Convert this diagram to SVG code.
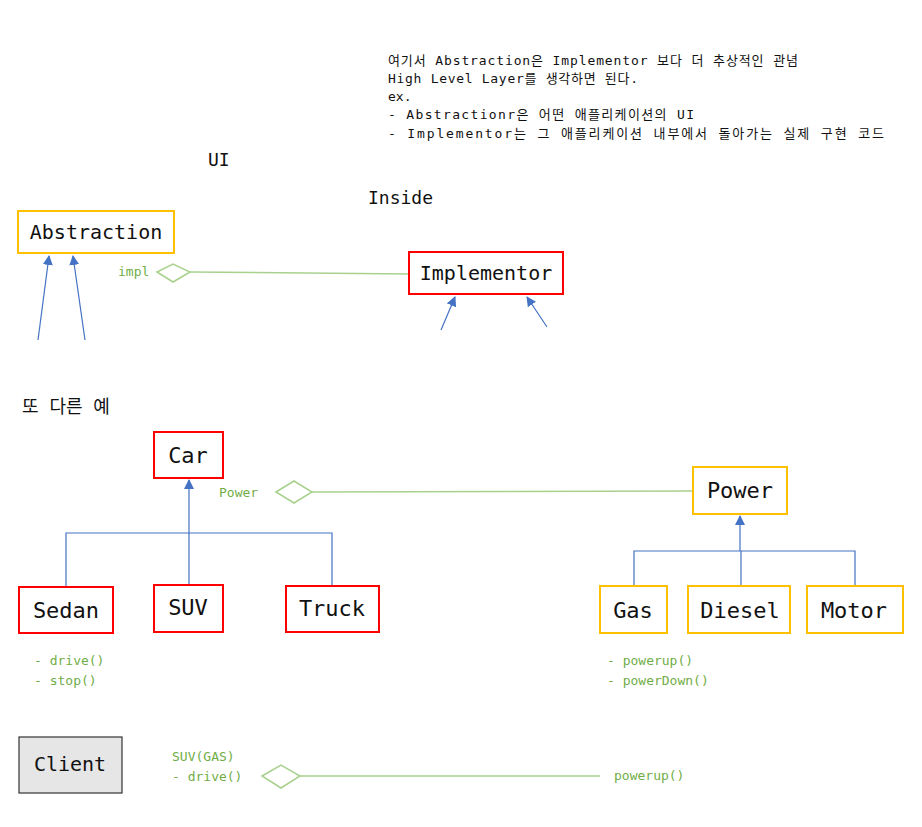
<svg xmlns="http://www.w3.org/2000/svg" width="922" height="827" viewBox="0 0 922 827">
<defs>
<marker id="ah" markerWidth="10" markerHeight="10" refX="9" refY="5" orient="auto" markerUnits="userSpaceOnUse"><path d="M0,0 L10,5 L0,10 z" fill="#4472c4"/></marker>
<style>
text{font-family:"DejaVu Sans Mono","Noto Sans CJK KR",monospace;fill:#111}
.n{font-size:20px;text-anchor:middle}
.b{font-size:22px;text-anchor:middle}
.note{font-size:13px}
.g{fill:#70ad47;font-size:13px}
.red{fill:#fff;stroke:#ff0000;stroke-width:2}
.yel{fill:#fff;stroke:#ffc000;stroke-width:2}
.blue{stroke:#4472c4;stroke-width:1.2;fill:none}
.grn{stroke:#a9d18e;stroke-width:1.5;fill:none}
.dia{stroke:#a9d18e;stroke-width:1.5;fill:#fff}
</style>
</defs>
<rect width="922" height="827" fill="#fff"/>
<g id="note">
<text class="note" x="388" y="65" textLength="410">여기서 Abstraction은 Implementor 보다 더 추상적인 관념</text>
<text class="note" x="388" y="83" textLength="250">High Level Layer를 생각하면 된다.</text>
<text class="note" x="388" y="101">ex.</text>
<text class="note" x="388" y="119" textLength="306">-  Abstractionr은 어떤 애플리케이션의 UI</text>
<text class="note" x="388" y="138" textLength="496">-  Implementor는 그 애플리케이션 내부에서 돌아가는 실제 구현 코드</text>
</g>
<text x="208" y="166" style="font-size:18px">UI</text>
<text x="368" y="204" style="font-size:18px">Inside</text>
<text x="22" y="413" style="font-size:18px">또 다른 예</text>
<g id="connectors">
<line class="blue" x1="38" y1="340" x2="49" y2="256" marker-end="url(#ah)"/>
<line class="blue" x1="85" y1="340" x2="73" y2="256" marker-end="url(#ah)"/>
<line class="blue" x1="441" y1="330" x2="455" y2="297" marker-end="url(#ah)"/>
<line class="blue" x1="547" y1="327" x2="527" y2="297" marker-end="url(#ah)"/>
<line class="grn" x1="190" y1="272" x2="409" y2="274"/>
<path class="dia" d="M157,272 L173,264 L190,272 L173,282 Z"/>
<text class="g" x="118" y="276">impl</text>
<path class="blue" d="M66,587 V533 H332 V586 M189,585 V533"/>
<line class="blue" x1="189" y1="533" x2="189" y2="480" stroke-width="2" marker-end="url(#ah)"/>
<path class="blue" d="M634,586 V551 H855 V586 M741,586 V551"/>
<line class="blue" x1="740" y1="551" x2="740" y2="516" stroke-width="2" marker-end="url(#ah)"/>
<line class="grn" x1="312" y1="492" x2="693" y2="491"/>
<path class="dia" d="M276,492 L294,481 L312,492 L294,503 Z"/>
<text class="g" x="219" y="497">Power</text>
<line class="grn" x1="300" y1="776" x2="600" y2="776"/>
<path class="dia" d="M262,776 L281,765 L300,776 L281,788 Z"/>
<text class="g" x="172" y="761">SUV(GAS)</text>
<text class="g" x="172" y="781">- drive()</text>
<text class="g" x="614" y="780">powerup()</text>
<text class="g" x="34" y="665">-  drive()</text>
<text class="g" x="34" y="685">-  stop()</text>
<text class="g" x="607" y="665">-  powerup()</text>
<text class="g" x="607" y="685">-  powerDown()</text>
</g>
<g id="abstraction"><rect class="yel" x="18" y="211" width="156" height="42"/><text class="n" x="96" y="239">Abstraction</text></g>
<g id="implementor"><rect class="red" x="409" y="252" width="154" height="42"/><text class="n" x="486" y="280">Implementor</text></g>
<g id="car"><rect class="red" x="154" y="432" width="69" height="46"/><text class="b" x="188" y="463">Car</text></g>
<g id="power"><rect class="yel" x="693" y="467" width="94" height="47"/><text class="b" x="740" y="498">Power</text></g>
<g id="sedan"><rect class="red" x="19" y="587" width="94" height="46"/><text class="b" x="66" y="618">Sedan</text></g>
<g id="suv"><rect class="red" x="154" y="585" width="69" height="47"/><text class="b" x="188" y="615">SUV</text></g>
<g id="truck"><rect class="red" x="286" y="586" width="93" height="46"/><text class="b" x="332" y="616">Truck</text></g>
<g id="gas"><rect class="yel" x="600" y="586" width="67" height="47"/><text class="b" x="633" y="618">Gas</text></g>
<g id="diesel"><rect class="yel" x="688" y="586" width="102" height="47"/><text class="b" x="740" y="618">Diesel</text></g>
<g id="motor"><rect class="yel" x="807" y="586" width="96" height="47"/><text class="b" x="854" y="618">Motor</text></g>
<g id="client"><rect x="19" y="737" width="103" height="56" fill="#e6e6e6" stroke="#333" stroke-width="1.2"/><text class="n" x="70" y="771">Client</text></g>
</svg>
